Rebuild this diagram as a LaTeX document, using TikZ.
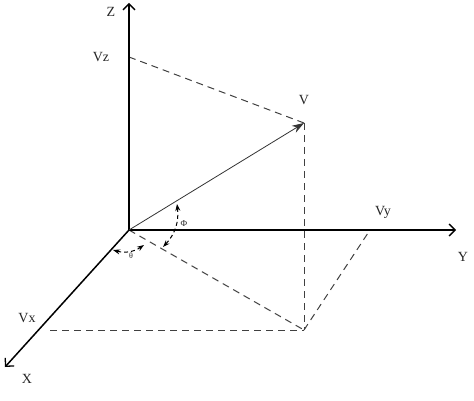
\documentclass[tikz,border=0pt]{standalone}
\usepackage{fontspec}
\setmainfont{Liberation Serif}
\usetikzlibrary{arrows.meta}
\begin{document}
\begin{tikzpicture}[x=1pt,y=-1pt,
  axis/.style={line width=1.5pt,-{Straight Barb[length=6pt,width=12pt,line width=1.3pt]}},
  proj/.style={dashed,dash pattern=on 7pt off 5pt,line width=1pt,draw=black!75},
  vec/.style={line width=0.8pt,draw=black!80,-{Stealth[length=12pt,width=8pt]}},
  ang/.style={dashed,dash pattern=on 4pt off 3pt,line width=1pt,{Stealth[length=7pt,width=5pt]}-{Stealth[length=7pt,width=5pt]}},
  lab/.style={font=\fontsize{14}{16}\selectfont,text=black!85,inner sep=1pt}]
\useasboundingbox (0,0) rectangle (474,401);
\coordinate (O) at (129,230);
\coordinate (Zend) at (129,3);
\coordinate (Yend) at (456,230);
\coordinate (Xend) at (5,367);
\coordinate (Vz) at (129,57);
\coordinate (V) at (304,123);
\coordinate (Vy) at (370,230);
\coordinate (Vx) at (50,330);
\coordinate (P) at (304,330);
\coordinate (t1) at (113,250);
\coordinate (t2) at (144,245);
\coordinate (f1) at (163,247);
\coordinate (f2) at (177,204);
% projections
\draw[proj] (Vz) -- (V);
\draw[proj] (V) -- (P);
\draw[proj] (O) -- (P);
\draw[proj] (Vx) -- (P);
\draw[proj] (P) -- (Vy);
% axes
\draw[axis] (O) -- (Zend);
\draw[axis] (O) -- (Yend);
\draw[axis] (O) -- (Xend);
% vector
\draw[vec] (O) -- (V);
% angles
\draw[ang] (t1) to[bend right=25] (t2);
\draw[ang] (f1) to[bend right=25] (f2);
% labels
\node[lab] (lZ) at (111,12) {Z};
\node[lab] (lVz) at (101,57) {Vz};
\node[lab] (lV) at (304,100) {V};
\node[lab] (lVy) at (383,212) {Vy};
\node[lab] (lY) at (463,257) {Y};
\node[lab] (lVx) at (27,318) {Vx};
\node[lab] (lX) at (27,379) {X};
\node[lab,font=\fontsize{8}{9}\selectfont] (lt) at (131,256) {θ};
\node[lab,font=\fontsize{9}{10}\selectfont] (lf) at (184,224) {Φ};
\end{tikzpicture}
\end{document}
